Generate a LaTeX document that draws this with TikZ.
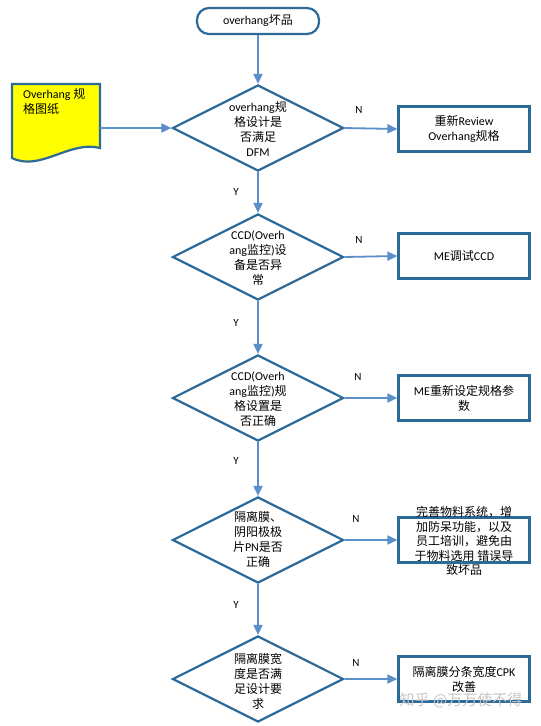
\documentclass[tikz,border=0pt]{standalone}
\usepackage{fontspec}
\setmainfont{Carlito}
\newfontfamily\cjk{Noto Sans CJK SC}
\newcommand\zh[1]{{\cjk #1}}
\usetikzlibrary{shapes.geometric,arrows.meta}
\definecolor{bord}{HTML}{2B6A99}
\definecolor{arrc}{HTML}{5B8FC9}
\definecolor{docy}{HTML}{FFFF00}
\begin{document}
\begin{tikzpicture}[x=1pt,y=-1pt,
  every node/.style={font=\fontsize{12}{15}\selectfont, inner sep=0pt},
  dia/.style={diamond, draw=bord, line width=2.2pt, minimum width=171pt, minimum height=86pt},
  boxn/.style={rectangle, draw=bord, line width=2.2pt, minimum width=131pt, minimum height=45pt, align=center},
  txt/.style={align=center},
  arr/.style={draw=arrc, line width=1.8pt, -{Triangle[length=10pt,width=9pt]}},
  lbl/.style={font=\fontsize{11}{13}\selectfont}]
\useasboundingbox[fill=white] (0,0) rectangle (541,726);

% start
\node[rectangle, rounded corners=12pt, draw=bord, line width=2.2pt, minimum width=122pt, minimum height=26pt] (start) at (258,21) {overhang\zh{坏品}};

% document shape
\node[minimum width=88pt, minimum height=64pt] (doc) at (56,116) {};
\draw[draw=bord, fill=docy, line width=2.2pt] (12,84) -- (100,84) -- (100,148) .. controls (70,140) and (40,172) .. (12,158) -- cycle;
\node[anchor=north west, align=left] (doctext) at (23,88) {Overhang \zh{规}\\\zh{格图纸}};

% diamonds
\node[dia] (d1) at (258,128) {};
\node[txt] (t1) at (258,129) {overhang\zh{规}\\\zh{格设计是}\\\zh{否满足}\\DFM};
\node[dia] (d2) at (258,257) {};
\node[txt] (t2) at (258,258) {CCD(Overh\\ang\zh{监控})\zh{设}\\\zh{备是否异}\\\zh{常}};
\node[dia] (d3) at (258,398) {};
\node[txt] (t3) at (258,399) {CCD(Overh\\ang\zh{监控})\zh{规}\\\zh{格设置是}\\\zh{否正确}};
\node[dia] (d4) at (258,540) {};
\node[txt] (t4) at (258,539) {\zh{隔离膜、}\\\zh{阴阳极极}\\\zh{片}PN\zh{是否}\\\zh{正确}};
\node[dia] (d5) at (258,679) {};
\node[txt] (t5) at (258,681) {\zh{隔离膜宽}\\\zh{度是否满}\\\zh{足设计要}\\\zh{求}};

% boxes
\node[boxn] (b1) at (464,129) {\zh{重新}Review\\Overhang\zh{规格}};
\node[boxn] (b2) at (464,256) {ME\zh{调试}CCD};
\node[boxn] (b3) at (464,398) {ME\zh{重新设定规格参}\\\zh{数}};
\node[boxn] (b4) at (464,540) {};
\node[txt, font=\fontsize{12}{14.5}\selectfont] (t6) at (464,541) {\zh{完善物料系统，增}\\\zh{加防呆功能，以及}\\\zh{员工培训，避免由}\\\zh{于物料选用 错误导}\\\zh{致坏品}};
\node[boxn] (b5) at (464,679) {\zh{隔离膜分条宽度}CPK\\\zh{改善}};

% connectors
\draw[arr] (start.south) -- (d1.north);
\draw[arr] (doc.east |- d1.west) -- (d1.west);
\draw[arr] (d1.east) -- (b1.west);
\draw[arr] (d1.south) -- (d2.north);
\draw[arr] (d2.east) -- (b2.west);
\draw[arr] (d2.south) -- (d3.north);
\draw[arr] (d3.east) -- (b3.west);
\draw[arr] (d3.south) -- (d4.north);
\draw[arr] (d4.east) -- (b4.west);
\draw[arr] (d4.south) -- (d5.north);
\draw[arr] (d5.east) -- (b5.west);

% labels
\node[lbl] (n1) at (359,110) {N};
\node[lbl] (n2) at (359,240) {N};
\node[lbl] (n3) at (358,377) {N};
\node[lbl] (n4) at (356,519) {N};
\node[lbl] (n5) at (356,663) {N};
\node[lbl] (y1) at (236,192) {Y};
\node[lbl] (y2) at (236,323) {Y};
\node[lbl] (y3) at (236,461) {Y};
\node[lbl] (y4) at (236,605) {Y};

% watermark
\node[text=gray!45, font=\fontsize{15}{15}\selectfont] (wm) at (461,700) {\zh{知乎 @万万使不得}};
\end{tikzpicture}
\end{document}
